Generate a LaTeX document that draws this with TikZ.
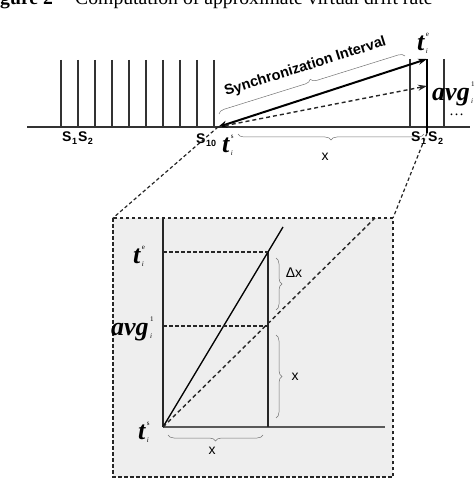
\documentclass[tikz,border=0pt]{standalone}
\usepackage{fontspec}
\setmainfont{Liberation Serif}
\newfontfamily\arial{Liberation Sans}
\usetikzlibrary{arrows.meta,decorations.pathreplacing}
% #1 size, #2 main, #3 sup, #4 sub, #5 raise
\newcommand\varlab[5]{{\fontsize{#1}{#1}\selectfont\bfseries\itshape #2}\kern1.5pt{\fontsize{7}{7}\selectfont\rlap{\raisebox{#5}{#3}}\raisebox{-3pt}{\itshape #4}}}
\newcommand\slab[1]{{\arial\fontsize{14}{14}\selectfont\bfseries S\kern0.5pt\raisebox{-2.5pt}{\fontsize{9}{9}\selectfont #1}}}
\tikzset{
  lab/.style={inner sep=0pt, anchor=base west},
  sanslab/.style={inner sep=0pt, font=\arial\fontsize{14}{14}\selectfont},
  timeline/.style={draw=black!80, line width=1.4pt},
  spike/.style={draw=black!80, line width=1.3pt},
  dashln/.style={draw=black!85, line width=1.4pt, dash pattern=on 4pt off 3pt},
  proj/.style={draw=black!85, line width=1.2pt, dash pattern=on 3.5pt off 2.5pt},
  brc/.style={draw=black!55, line width=0.5pt, decorate, decoration={brace, amplitude=6pt}},
}
\begin{document}
\begin{tikzpicture}[x=1pt,y=-1pt]
\useasboundingbox (0,0) rectangle (474,478);
\clip (0,0) rectangle (474,478);
% title (cropped)
\node[lab, font=\fontsize{19.7}{20}\selectfont\bfseries] (ttl1) at (0,5) {gure 2};
\node[lab, font=\fontsize{19.7}{20}\selectfont] (ttl2) at (75,5) {Computation of approximate virtual drift rate};
% top timeline
\coordinate (L0) at (27,127);
\coordinate (L1) at (470,127);
\draw[timeline] (L0) -- (L1);
\foreach \x in {61,78,95,112,129,146,163,180,197,214}
  \draw[spike] (\x,60) -- (\x,127);
\draw[spike] (410,59) -- (410,127);
\draw[spike] (444,59) -- (444,127);
\coordinate (O) at (218,127);
\coordinate (E) at (427,59);
\coordinate (A) at (427,86);
\coordinate (Ebot) at (427,133);
\draw[line width=1.8pt, black] (E) -- (Ebot);
\draw[line width=2pt, black, {Stealth[length=9pt,width=7pt]}-{Stealth[length=9pt,width=6pt]}] (O) -- (E);
\draw[dashln, -{Stealth[length=9pt,width=6pt]}] (O) -- (A);
% synchronization interval
\coordinate (B0) at (219,114);
\coordinate (B1) at (405,56);
\draw[brc] (B0) -- (B1);
\node[inner sep=0pt, anchor=base west, rotate=17.5, font=\arial\fontsize{14.5}{14.5}\selectfont\bfseries] (sync) at (226,96) {Synchronization Interval};
% top x brace
\coordinate (X0) at (424,134);
\coordinate (X1) at (238,134);
\draw[brc] (X0) -- (X1);
\node[sanslab] (xtop) at (325,157) {x};
% top labels
\node[lab] (s1a) at (62,142) {\slab{1}\kern1pt\slab{2}};
\node[lab] (s10) at (196,144) {\slab{10}};
\node[lab] (s1b) at (411,142) {\slab{1}};
\node[lab] (s2b) at (428,142) {\slab{2}};
\node[lab] (dots) at (449,116) {\fontsize{15}{15}\selectfont\dots};
\node[lab] (tsTop) at (222,153) {\varlab{26}{t}{s}{i}{14pt}};
\node[lab] (teTop) at (417,51) {\varlab{26}{t}{e}{i}{14pt}};
\node[lab] (avgTop) at (432,101) {\varlab{26}{avg}{1}{i}{14pt}};
% inset box
\coordinate (P0) at (113,218);
\coordinate (P1) at (393,477);
\fill[gray!13] (P0) rectangle (P1);
\draw[proj] (P0) rectangle (P1);
\draw[proj] (O) -- (P0);
\draw[proj] (Ebot) -- (393,218);
% inset graph
\coordinate (Oi) at (163,427);
\coordinate (Ytop) at (163,218);
\coordinate (Xend) at (385,427);
\coordinate (Vt) at (268,252);
\coordinate (Vb) at (268,427);
\coordinate (Va) at (268,326);
\coordinate (Sol) at (283,227);
\coordinate (Dsh) at (375,218);
\draw[black!85, line width=1.8pt] (Ytop) -- (Oi);
\draw[black!65, line width=1.8pt] (Oi) -- (Xend);
\draw[black!85, line width=1.1pt] (Vt) -- (Vb);
\draw[black, line width=1.3pt] (Oi) -- (Sol);
\draw[dashln] (Oi) -- (Dsh);
\draw[black!85, line width=1.1pt, dash pattern=on 3.5pt off 2.5pt] (163,252) -- (Vt);
\draw[black!85, line width=1.1pt, dash pattern=on 3.5pt off 2.5pt] (163,326) -- (Va);
\draw[brc] (276,258) -- (276,310);
\draw[brc] (276,335) -- (276,418);
\draw[brc] (263,435) -- (168,435);
\node[sanslab] (dx) at (294,273) {Δx};
\node[sanslab] (xr) at (295,377) {x};
\node[sanslab] (xb) at (212,451) {x};
\node[lab] (teIn) at (133,263) {\varlab{26}{t}{e}{i}{14pt}};
\node[lab] (avgIn) at (111,335) {\varlab{26}{avg}{1}{i}{14pt}};
\node[lab] (tsIn) at (138,439) {\varlab{26}{t}{s}{i}{14pt}};
\end{tikzpicture}
\end{document}
